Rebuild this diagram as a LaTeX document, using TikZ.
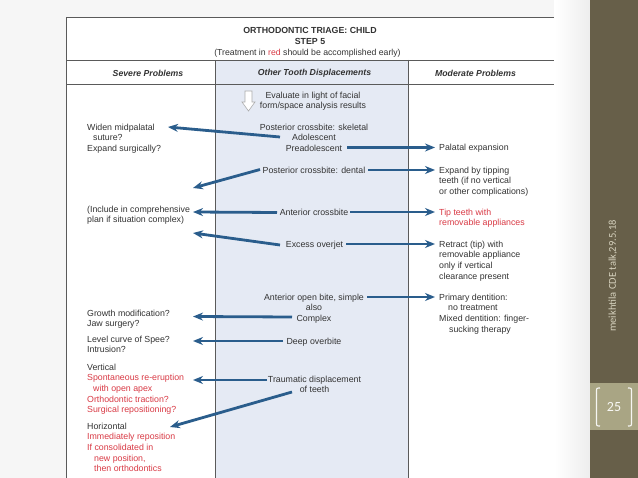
\documentclass[tikz,border=0pt]{standalone}
\usepackage{fontspec}
\setmainfont{Liberation Sans}
\newfontfamily\sidefont{Carlito}
\usetikzlibrary{arrows.meta}
\definecolor{txt}{HTML}{333333}
\definecolor{redt}{HTML}{D93A45}
\definecolor{arrowblue}{HTML}{2A5D8C}
\definecolor{midcol}{HTML}{E5EAF4}
\definecolor{side}{HTML}{675F49}
\definecolor{pagebox}{HTML}{A9A584}
\definecolor{sidetext}{HTML}{D6D2BE}
\definecolor{rulecol}{HTML}{5A5A5A}
\begin{document}
\begin{tikzpicture}[x=1pt,y=-1pt,
  lbl/.style={inner sep=0pt, text=txt, font=\fontsize{8.8}{10.6}\selectfont},
  ctr/.style={lbl, align=center, anchor=north},
  lft/.style={lbl, align=left, anchor=north west},
  hdr/.style={inner sep=0pt, text=txt, font=\fontsize{8.7}{10}\selectfont\bfseries\itshape},
  arr/.style={line width=2.8pt, draw=arrowblue, -{Stealth[length=10pt,width=8pt]}},
  tbl/.style={draw=rulecol, line width=0.8pt}]
\useasboundingbox (0,0) rectangle (638,478);
% slide background
\fill[gray!7] (0,0) rectangle (590,478);
\shade[left color=white, right color=gray!14] (554,0) rectangle (590,478);
\fill[white] (66,17) rectangle (554,478);
\fill[midcol] (215,60) rectangle (408,478);
% table rules
\draw[tbl] (554,17) -- (66,17) -- (66,478);
\draw[tbl] (66,60) -- (554,60);
\draw[tbl] (66,84) -- (554,84);
\draw[tbl] (215,60) -- (215,478);
\draw[tbl] (408,60) -- (408,478);
% header
\node[lbl, font=\fontsize{8.8}{10}\selectfont\bfseries] (title) at (310,30) {ORTHODONTIC TRIAGE: CHILD};
\node[lbl, font=\fontsize{8.8}{10}\selectfont\bfseries] (step) at (310,41.5) {STEP 5};
\node[lbl, font=\fontsize{8.7}{10}\selectfont] (note) at (307.5,53) {(Treatment in \textcolor{redt}{red} should be accomplished early)};
\node[hdr] (hsev) at (148,73) {Severe Problems};
\node[hdr] (hoth) at (314.5,73) {Other Tooth Displacements};
\node[hdr] (hmod) at (475.5,73) {Moderate Problems};
% down arrow
\draw[gray!65, fill=white, line width=0.6pt] (245,91) -- (252,91) -- (252,102) -- (255,102) -- (248.5,111) -- (242,102) -- (245,102) -- cycle;
% middle column
\node[ctr] (eval) at (313,91.7) {Evaluate in light of facial\\form/space analysis results};
\node[ctr] (skel) at (314,123.7) {Posterior crossbite: skeletal\\Adolescent\\Preadolescent};
\node[ctr] (dental) at (314,166.7) {Posterior crossbite: dental};
\node[ctr] (antx) at (314,208.7) {Anterior crossbite};
\node[ctr] (overjet) at (314.5,240.7) {Excess overjet};
\node[ctr] (openbite) at (314,293.7) {Anterior open bite, simple\\also\\Complex};
\node[ctr] (deep) at (314,337.7) {Deep overbite};
\node[ctr] (traum) at (314.5,375.7) {Traumatic displacement\\of teeth};
% right column
\node[lft] (palatal) at (439,143.7) {Palatal expansion};
\node[lft] (tipping) at (439,166.7) {Expand by tipping\\teeth (if no vertical\\or other complications)};
\node[lft, text=redt] (tipteeth) at (439,208.7) {Tip teeth with\\removable appliances};
\node[lft] (retract) at (439,240.7) {Retract (tip) with\\removable appliance\\only if vertical\\clearance present};
\node[lft] (primary) at (439,293.7) {Primary dentition:\\\hspace*{9pt}no treatment\\Mixed dentition: finger-\\\hspace*{10pt}sucking therapy};
% left column
\node[lft] (widen) at (87,123.7) {Widen midpalatal\\\hspace*{6pt}suture?\\Expand surgically?};
\node[lft] (include) at (87,205.7) {(Include in comprehensive\\plan if situation complex)};
\node[lft] (growth) at (87,309.7) {Growth modification?\\Jaw surgery?};
\node[lft] (spee) at (87,335.7) {Level curve of Spee?\\Intrusion?};
\node[lft] (vertical) at (87,363.7) {Vertical\\\textcolor{redt}{Spontaneous re-eruption}\\\textcolor{redt}{\hspace*{6pt}with open apex}\\\textcolor{redt}{Orthodontic traction?}\\\textcolor{redt}{Surgical repositioning?}};
\node[lft] (horizontal) at (87,422.7) {Horizontal\\\textcolor{redt}{Immediately reposition}\\\textcolor{redt}{If consolidated in}\\\textcolor{redt}{\hspace*{7pt}new position,}\\\textcolor{redt}{\hspace*{7pt}then orthodontics}};
% arrow end points
\coordinate (skelL) at (280,137);   \coordinate (widenT) at (168,127);
\coordinate (skelR) at (347,147.5); \coordinate (palatalT) at (435,147.5);
\coordinate (dentL) at (260,169.5); \coordinate (dentLT) at (193,188);
\coordinate (dentR) at (368,170);   \coordinate (tippingT) at (435,170);
\coordinate (antxL) at (277,212.5); \coordinate (includeT) at (193,212);
\coordinate (antxR) at (350,212);   \coordinate (tipteethT) at (435,212);
\coordinate (ojL) at (280,245);     \coordinate (ojLT) at (193,233);
\coordinate (ojR) at (346,244);     \coordinate (retractT) at (435,244);
\coordinate (obR) at (367,297);     \coordinate (primaryT) at (435,297);
\coordinate (obL) at (292,317);     \coordinate (growthT) at (193,316.5);
\coordinate (deepL) at (283,341);   \coordinate (speeT) at (193,341);
\coordinate (trL) at (267,380);     \coordinate (verticalT) at (193,380);
\coordinate (trL2) at (292,392);    \coordinate (horizontalT) at (170,427);
\draw[arr] (skelL) -- (widenT);
\draw[arr] (skelR) -- (palatalT);
\draw[arr] (dentL) -- (dentLT);
\draw[arr] (dentR) -- (tippingT);
\draw[arr] (antxL) -- (includeT);
\draw[arr] (antxR) -- (tipteethT);
\draw[arr] (ojL) -- (ojLT);
\draw[arr] (ojR) -- (retractT);
\draw[arr] (obR) -- (primaryT);
\draw[arr] (obL) -- (growthT);
\draw[arr] (deepL) -- (speeT);
\draw[arr] (trL) -- (verticalT);
\draw[arr] (trL2) -- (horizontalT);
% side bar
\fill[side] (590,0) rectangle (638,478);
\fill[pagebox] (590,383) rectangle (638,430);
\draw[white!90!pagebox, line width=1.1pt] (600,388) .. controls (596.5,388) .. (596.5,392) -- (596.5,422) .. controls (596.5,426) .. (600,426);
\draw[white!90!pagebox, line width=1.1pt] (628,388) .. controls (631.5,388) .. (631.5,392) -- (631.5,422) .. controls (631.5,426) .. (628,426);
\node[inner sep=0pt, text=white!92!pagebox, font=\sidefont\fontsize{14}{16}\selectfont] (pnum) at (614,407) {25};
\node[inner sep=0pt, rotate=90, text=sidetext, font=\sidefont\fontsize{10.5}{12}\selectfont] (talk) at (613,276) {meikhtila CDE talk,29.5.18};
\end{tikzpicture}
\end{document}
